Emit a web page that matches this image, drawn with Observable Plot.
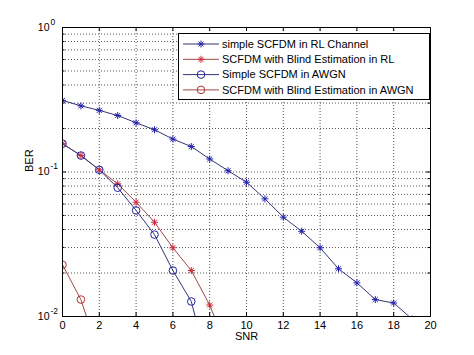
<!DOCTYPE html>
<html><head><meta charset="utf-8">
<script src="https://cdn.jsdelivr.net/npm/d3@7"></script>
<script src="https://cdn.jsdelivr.net/npm/@observablehq/plot@0.6"></script>
<style>
body{margin:0;background:#fff;}
#wrap{position:relative;width:474px;height:355px;background:#fff;}
#legend{position:absolute;left:178px;top:33px;}
</style></head><body><div id="wrap"></div>
<script>
// ---- data ----
const snrRL        = [0,1,2,3,4,5,6,7,8,9,10,11,12,13,14,15,16,17,18,19];
const berRL        = [0.313,0.287,0.267,0.246,0.219,0.196,0.169,0.150,0.123,0.102,0.085,0.0652,0.0487,0.0389,0.0299,0.0214,0.0171,0.0131,0.0124,0.0096];
const snrBlindRL   = [0,1,2,3,4,5,6,7,8,9];
const berBlindRL   = [0.157,0.130,0.1035,0.0828,0.0618,0.0449,0.0299,0.0208,0.0120,0.0058];
const snrAWGN      = [0,1,2,3,4,5,6,7,8];
const berAWGN      = [0.157,0.130,0.1035,0.0778,0.0542,0.0369,0.0208,0.0127,0.0041];
const snrBlindAWGN = [0,1,2];
const berBlindAWGN = [0.0228,0.0131,0.0054];

const seriesNames = ["simple SCFDM in RL Channel","SCFDM with Blind Estimation in RL","Simple SCFDM in AWGN","SCFDM with Blind Estimation in AWGN"];

const xTicks   = [0,2,4,6,8,10,12,14,16,18,20];
const yMajor   = [0.01,0.1,1];
const yMinor   = [0.02,0.03,0.04,0.05,0.06,0.07,0.08,0.09,0.2,0.3,0.4,0.5,0.6,0.7,0.8,0.9];
const yExpLabels = ["-2","-1","0"];

// ---- styling ----
const W = 474, H = 355, mL = 62, mR = 44, mT = 27, mB = 39;
const fw = W - mL - mR, fh = H - mT - mB;
const styles = [
  {line:"#34347a", mark:"#2020b0", sym:"star"},
  {line:"#a04848", mark:"#d02838", sym:"star"},
  {line:"#34347a", mark:"#2020a0", sym:"circle"},
  {line:"#a04848", mark:"#b03030", sym:"circle"}
];
const xs = [snrRL, snrBlindRL, snrAWGN, snrBlindAWGN];
const ys = [berRL, berBlindRL, berAWGN, berBlindAWGN];
const series = seriesNames.map((name, i) => ({
  name, ...styles[i],
  data: xs[i].map((x, j) => ({x, y: ys[i][j]}))
}));

const gridStyle = {stroke:"#555", strokeDasharray:"1,2", strokeWidth:1};
const marks = [
  Plot.ruleX(xTicks.filter(d => d > 0 && d < 20), gridStyle),
  Plot.ruleY(yMinor.concat([0.1]), gridStyle),
  // inward ticks (MATLAB style) on all four sides
  Plot.ruleX(xTicks, {insetTop: fh - 4, stroke:"black"}),
  Plot.ruleX(xTicks, {insetBottom: fh - 4, stroke:"black"}),
  Plot.ruleY(yMajor, {insetRight: fw - 4, stroke:"black"}),
  Plot.ruleY(yMajor, {insetLeft: fw - 4, stroke:"black"}),
  Plot.ruleY(yMinor, {insetRight: fw - 2.5, stroke:"black"}),
  Plot.ruleY(yMinor, {insetLeft: fw - 2.5, stroke:"black"}),
];
for (const s of series) {
  marks.push(Plot.line(s.data, {x:"x", y:"y", stroke:s.line, strokeWidth:1, clip:true}));
}
for (const s of series) {
  if (s.sym === "star") {
    marks.push(Plot.dot(s.data, {x:"x", y:"y", symbol:"plus", r:2.4, stroke:s.mark, fill:"none", strokeWidth:1, clip:true}));
    marks.push(Plot.dot(s.data, {x:"x", y:"y", symbol:"times", r:2.4, stroke:s.mark, fill:"none", strokeWidth:1, clip:true}));
  } else {
    marks.push(Plot.dot(s.data, {x:"x", y:"y", symbol:"circle", r:3.8, stroke:s.mark, fill:"none", strokeWidth:1, clip:true}));
  }
}
marks.push(
  Plot.frame({stroke:"black"}),
  Plot.axisX({ticks: xTicks, tickSize: 0, tickPadding: 5, fontSize: 11, label: null}),
  Plot.axisY({ticks: [], label: null}),
  Plot.text(yMajor, {y: d => d, frameAnchor:"left", text: () => "10", textAnchor:"end", dx:-13, fontSize:10.5}),
  Plot.text(yMajor, {y: d => d, frameAnchor:"left", text: (d, i) => yExpLabels[i], textAnchor:"start", dx:-12, dy:-5.5, fontSize:8.5}),
  Plot.text(["SNR"], {frameAnchor:"bottom", dy:23.5, fontSize:11}),
  Plot.text(["BER"], {frameAnchor:"left", dx:-33, rotate:-90, fontSize:11})
);

const chart = Plot.plot({
  width: W, height: H,
  marginLeft: mL, marginRight: mR, marginTop: mT, marginBottom: mB,
  x: {domain:[0,20]},
  y: {type:"log", domain:[0.01,1]},
  style: {fontFamily:"'Liberation Sans', Arial, sans-serif", fontSize:"11px", background:"white", color:"black"},
  marks
});
const wrap = document.getElementById("wrap");
wrap.appendChild(chart);

// ---- legend overlay ----
const lw = 251, lh = 66, rowY = [11, 26.3, 41.6, 56.9];
const leg = d3.select(wrap).append("svg").attr("id","legend")
  .attr("width", lw + 1).attr("height", lh + 1)
  .style("font-family","'Liberation Sans', Arial, sans-serif").style("font-size","11px");
leg.append("rect").attr("x",0.5).attr("y",0.5).attr("width",lw).attr("height",lh)
  .attr("fill","white").attr("stroke","black");
series.forEach((s, i) => {
  const g = leg.append("g").attr("transform", `translate(0,${rowY[i]})`);
  g.append("line").attr("x1",5).attr("x2",41).attr("stroke",s.line);
  if (s.sym === "star") {
    g.append("path").attr("transform","translate(23,0)")
      .attr("d","M-3.5,0H3.5M0,-3.5V3.5M-2.5,-2.5L2.5,2.5M-2.5,2.5L2.5,-2.5")
      .attr("stroke",s.mark).attr("fill","none");
  } else {
    g.append("circle").attr("cx",23).attr("r",3.8).attr("stroke",s.mark).attr("fill","none");
  }
  g.append("text").attr("x",44).attr("dy","0.35em").text(s.name);
});
</script></body></html>
